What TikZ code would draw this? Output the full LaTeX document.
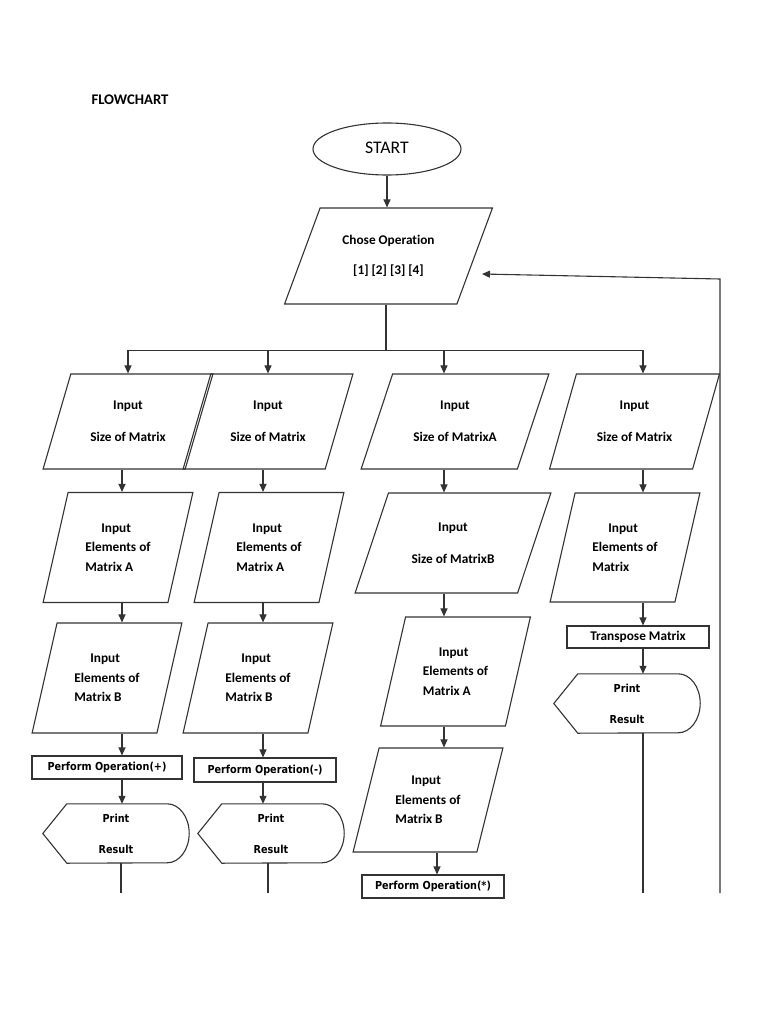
\documentclass[tikz,border=0pt]{standalone}
\usepackage{fontspec}
\setmainfont{Carlito}[Ligatures=NoCommon]
\newfontfamily\boxfont{DejaVu Sans}[FakeStretch=0.88]
\usepackage{tikz}
\usetikzlibrary{shapes.geometric}
\usetikzlibrary{arrows.meta}
\newcommand{\labelsize}{\fontsize{13.3}{19.5}\selectfont\bfseries}
\newcommand{\widthsize}{170pt}
\newcommand{\heightsize}{95pt}
\newcommand{\widthelem}{150pt}
\newcommand{\heightelem}{110pt}
\newcommand{\drawdisplay}[1]{%
  \draw[edgeline] (#1.west) -- ([xshift=24pt]#1.north west) -- ([xshift=-22pt]#1.north east)
    arc[start angle=90, end angle=-90, x radius=22pt, y radius=29.5pt]
    -- ([xshift=24pt]#1.south west) -- cycle;}
\tikzset{
    edgeline/.style={draw=black!80, line width=1.1pt},
    common/.style={edgeline, font=\labelsize},
    io/.style={common, trapezium, trapezium stretches=true, inner sep=2pt, align=center},
    sizein/.style={io, minimum width=\widthsize, minimum height=\heightsize, trapezium left angle=66.7, trapezium right angle=113.3},
    elemin/.style={io, align=left, minimum width=\widthelem, minimum height=\heightelem, trapezium left angle=71.5, trapezium right angle=108.5},
    process/.style={edgeline, rectangle, font=\boxfont\bfseries\fontsize{11}{13}\selectfont, minimum width=142pt, minimum height=23pt, inner sep=0pt},
    display/.style={font=\boxfont\bfseries\fontsize{11}{31}\selectfont, align=center, minimum width=146pt, minimum height=59pt, inner sep=0pt},
    flow/.style={edgeline, ->},
    bus/.style={flow, to path={-| (\tikztotarget)}}
}

\begin{document}
\begin{tikzpicture}[x=1pt, y=-1pt, >={Triangle[length=8pt, width=7pt]}]
  \useasboundingbox (0,0) rectangle (768,1024);

  \node[font=\fontsize{14.7}{17}\selectfont\bfseries] (title) at (130,100) {FLOWCHART};
  \node[ellipse, edgeline, minimum width=148pt, minimum height=52pt, font=\fontsize{17.7}{20}\selectfont] (start) at (387,149) {\raisebox{3pt}{START}};
  \node[io, minimum width=208pt, minimum height=96pt, trapezium left angle=61.1, trapezium right angle=118.9] (chose) at (388.5,256) {Chose Operation\\[10.5pt][1] [2] [3] [4]};

  % column 1: addition
  \path
      (128,421.5) node[sizein] (A1) {Input\\[12.5pt]Size of Matrix}
      ++(-10,126) node[elemin] (A2) {\hspace*{16pt}Input\\Elements of\\Matrix A}
      ++(-11,130.5) node[elemin] (A3) {\hspace*{16pt}Input\\Elements of\\Matrix B}
      ++(0,89.5) node[process, minimum width=150pt] (A4) {Perform Operation(+)}
      ++(9,66) node[display] (A5) {Print\\Result};

  % column 2: subtraction
  \path
      (268,421.5) node[sizein] (B1) {Input\\[12.5pt]Size of Matrix}
      ++(1,126) node[elemin] (B2) {\hspace*{16pt}Input\\Elements of\\Matrix A}
      ++(-11,130.5) node[elemin] (B3) {\hspace*{16pt}Input\\Elements of\\Matrix B}
      ++(7,92) node[process, minimum height=24pt] (B4) {Perform Operation(-)}
      ++(6,63.5) node[display] (B5) {Print\\Result};

  % column 3: multiplication
  \path
      (455,421.5) node[sizein, minimum width=188pt, trapezium left angle=63.7, trapezium right angle=116.3] (C1) {Input\\[12.5pt]Size of MatrixA}
      ++(-2,121.5) node[io, minimum width=196pt, minimum height=100pt, trapezium left angle=63.4, trapezium right angle=116.6] (C2) {Input\\[12.5pt]Size of MatrixB}
      ++(2.5,128.5) node[elemin, minimum height=109pt] (C3) {\hspace*{16pt}Input\\Elements of\\Matrix A}
      ++(-27.5,128.5) node[elemin, minimum height=104pt, trapezium left angle=70.4, trapezium right angle=109.6] (C4) {\hspace*{16pt}Input\\Elements of\\Matrix B}
      ++(5,86.5) node[process] (C5) {Perform Operation(*)};

  % column 4: transpose
  \path
      (634.5,421.5) node[sizein, trapezium left angle=67.7, trapezium right angle=112.3] (D1) {Input\\[12.5pt]Size of Matrix}
      ++(-9.5,126) node[elemin, minimum height=109pt] (D2) {\hspace*{16pt}Input\\Elements of\\Matrix}
      ++(13,89.5) node[process, minimum height=22pt, font=\labelsize] (D3) {Transpose Matrix}
      ++(-11,66.5) node[display] (D4) {Print\\Result};

  \drawdisplay{A5}
  \drawdisplay{B5}
  \drawdisplay{D4}

  \coordinate (split) at (386,350.5);
  \coordinate (colA) at (122,0);
  \coordinate (colB) at (263,0);
  \coordinate (colC) at (444,0);
  \coordinate (colC-end) at (437,0);
  \coordinate (colD) at (643,0);
  \coordinate (endA) at (121,893);
  \coordinate (endB) at (268,893);
  \coordinate (endD) at (643,893);
  \coordinate (loop-bottom) at (720,893);
  \coordinate (loop-top) at (720,279);
  \coordinate (loop-tip) at (482,274);

  \draw[flow] (start.south) -- (start.south |- chose.north);
  \draw[edgeline] (chose.south -| split) -- (split);

  \path
    (split) edge[bus] (A1.north)
    (split) edge[bus] (B1.north)
    (split) edge[bus] (C1.north -| colC)
    (split) edge[bus] (D1.north -| colD);

  \path[every edge/.style={flow}]
    (A1.south -| colA) edge (A2.north -| colA)
    (A2.south -| colA) edge (A3.north -| colA)
    (A3.south -| colA) edge (A4.north -| colA)
    (A4.south -| colA) edge (A5.north -| colA)
    (B1.south -| colB) edge (B2.north -| colB)
    (B2.south -| colB) edge (B3.north -| colB)
    (B3.south -| colB) edge (B4.north -| colB)
    (B4.south -| colB) edge (B5.north -| colB)
    (C1.south -| colC) edge (C2.north -| colC)
    (C2.south -| colC) edge (C3.north -| colC)
    (C3.south -| colC) edge (C4.north -| colC)
    (C4.south -| colC-end) edge (C5.north -| colC-end)
    (D1.south -| colD) edge (D2.north -| colD)
    (D2.south -| colD) edge (D3.north -| colD)
    (D3.south -| colD) edge (D4.north -| colD);

  \draw[edgeline]
    (A5.south -| endA) -- (endA)
    (B5.south -| endB) -- (endB)
    (D4.south -| endD) -- (endD);

  \draw[flow] (loop-bottom) -- (loop-top) -- (loop-tip);
\end{tikzpicture}
\end{document}
